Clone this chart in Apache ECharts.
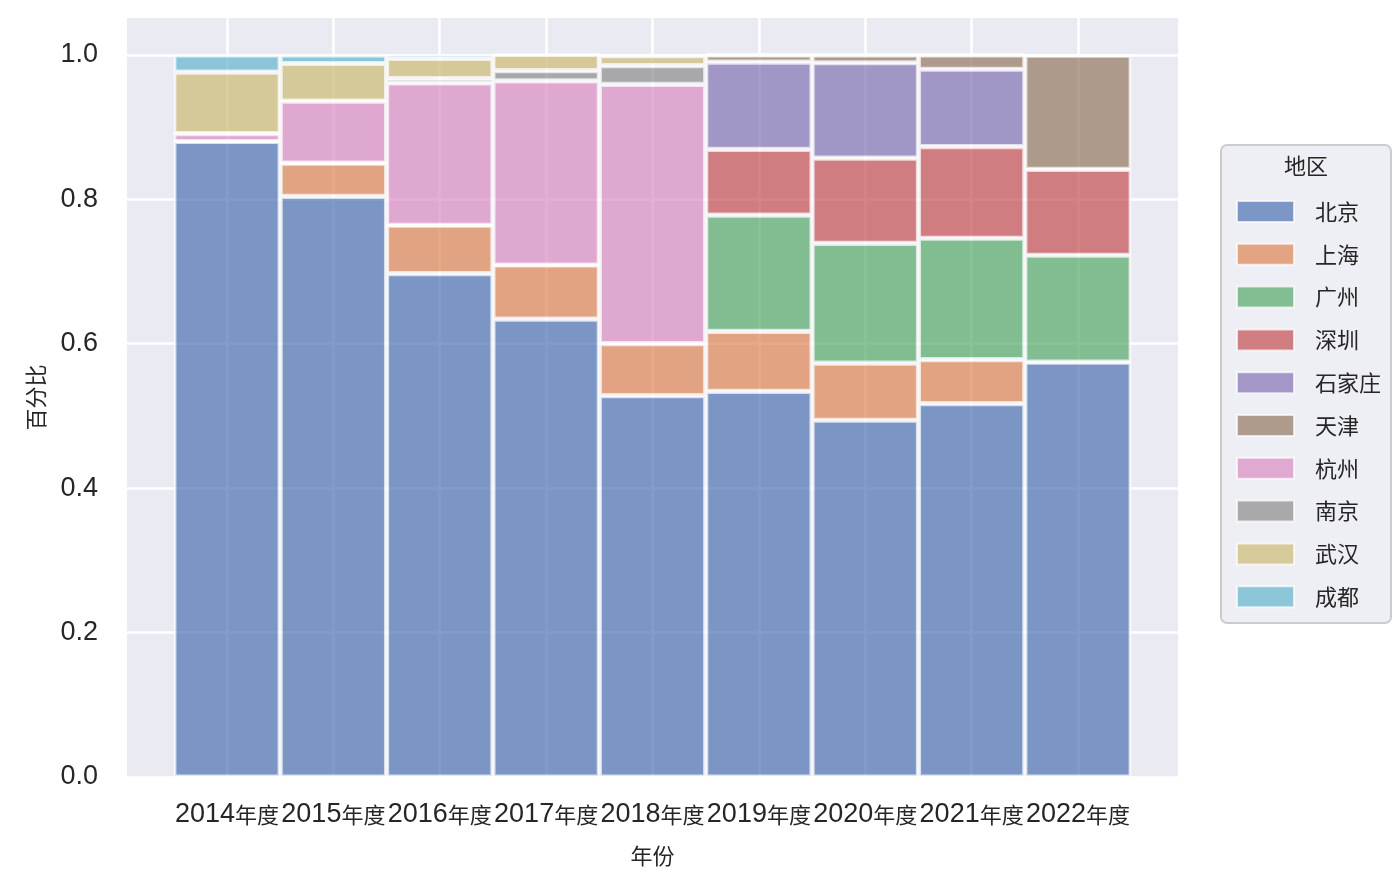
<!DOCTYPE html>
<html>
<head>
<meta charset="utf-8">
<script src="https://cdn.jsdelivr.net/npm/echarts@6/dist/echarts.min.js"></script>
<style>
html,body{margin:0;padding:0;background:#fff;}
#main{width:1394px;height:890px;}
</style>
</head>
<body>
<div id="main"></div>
<script>
// ---- data ----
const years = ['2014年度','2015年度','2016年度','2017年度','2018年度','2019年度','2020年度','2021年度','2022年度'];
const seriesNames = ['北京','上海','广州','深圳','石家庄','天津','杭州','南京','武汉','成都'];
const vBeijing   = [0.880,0.804,0.697,0.634,0.528,0.534,0.494,0.517,0.5745];
const vShanghai  = [0,0.046,0.067,0.075,0.072,0.083,0.079,0.061,0];
const vGuangzhou = [0,0,0,0,0,0.161,0.166,0.168,0.148];
const vShenzhen  = [0,0,0,0,0,0.091,0.118,0.127,0.119];
const vShijiazhuang = [0,0,0,0,0,0.121,0.132,0.107,0];
const vTianjin   = [0,0,0,0,0,0.010,0.011,0.020,0.158];
const vHangzhou  = [0.011,0.086,0.197,0.255,0.359,0,0,0,0];
const vNanjing   = [0,0,0.006,0.014,0.026,0,0,0,0];
const vWuhan     = [0.085,0.052,0.028,0.0225,0.014,0,0,0,0];
const vChengdu   = [0.024,0.012,0.0055,0,0,0,0,0,0];
const yTicks = [0,0.2,0.4,0.6,0.8,1.0];
const xTitle = '年份';
const yTitle = '百分比';
const legendTitle = '地区';

const allValues = [vBeijing,vShanghai,vGuangzhou,vShenzhen,vShijiazhuang,vTianjin,vHangzhou,vNanjing,vWuhan,vChengdu];
const colors = ['#4C72B0','#DD8452','#55A868','#C44E52','#8172B3','#937860','#DA8BC3','#8C8C8C','#CCB974','#64B5CD'];

const chart = echarts.init(document.getElementById('main'));
const idx = years.map((_, i) => i);

const series = seriesNames.map((name, k) => ({
  name: name,
  type: 'bar',
  stack: 'total',
  xAxisIndex: 1,
  yAxisIndex: 1,
  barWidth: '100%',
  data: allValues[k],
  itemStyle: {
    color: colors[k],
    opacity: 0.7,
    borderColor: '#ffffff',
    borderWidth: 2.6
  },
  emphasis: {disabled: true}
}));

const yMax = 1.051;

const option = {
  animation: false,
  backgroundColor: '#ffffff',
  color: colors,
  grid: [
    {left: 127, right: 216, top: 18, bottom: 113, show: true, backgroundColor: '#EAEAF2', borderWidth: 0},
    {left: 173.8, right: 262.8, top: 18, bottom: 113, show: false}
  ],
  xAxis: [{
    gridIndex: 0,
    type: 'value',
    min: -0.94,
    max: 8.94,
    name: xTitle,
    nameLocation: 'middle',
    nameGap: 68,
    nameTextStyle: {fontSize: 22, color: '#262626', fontFamily: 'Noto Sans CJK SC'},
    axisLine: {show: false},
    axisTick: {show: false, customValues: idx},
    axisLabel: {
      customValues: idx,
      margin: 24,
      formatter: function (v) {
        const s = years[Math.round(v)] || '';
        return '{a|' + s.slice(0, 4) + '}{b|' + s.slice(4) + '}';
      },
      rich: {
        a: {fontSize: 27, color: '#262626', fontFamily: 'Liberation Sans'},
        b: {fontSize: 22, color: '#262626', fontFamily: 'Noto Sans CJK SC'}
      }
    },
    splitLine: {show: true, customValues: idx, lineStyle: {color: '#ffffff', width: 2.5}}
  }, {
    gridIndex: 1,
    type: 'category',
    data: years,
    show: false,
    boundaryGap: true
  }],
  yAxis: [{
    gridIndex: 0,
    type: 'value',
    min: 0,
    max: yMax,
    name: yTitle,
    nameLocation: 'middle',
    nameRotate: 90,
    nameGap: 80,
    nameTextStyle: {fontSize: 22, color: '#262626', fontFamily: 'Noto Sans CJK SC'},
    axisLine: {show: false},
    axisTick: {show: false, customValues: yTicks},
    axisLabel: {
      customValues: yTicks,
      fontSize: 27, color: '#262626', fontFamily: 'Liberation Sans', margin: 29,
      formatter: v => v.toFixed(1)
    },
    splitLine: {show: true, customValues: yTicks, lineStyle: {color: '#ffffff', width: 2.5}}
  }, {
    gridIndex: 1,
    type: 'value',
    min: 0,
    max: yMax,
    show: false,
    splitLine: {show: false}
  }],
  graphic: [
    {type: 'rect', left: 1220, top: 144, z: 0,
     shape: {width: 170, height: 478, r: 6},
     style: {fill: '#EEEEF5', stroke: '#CCCCCC', lineWidth: 2}},
    {type: 'text', z: 10, left: 1284, top: 155,
     style: {text: legendTitle, fontSize: 22, fill: '#262626', fontFamily: 'Noto Sans CJK SC'}}
  ],
  legend: {
    orient: 'vertical',
    left: 1231,
    top: 195,
    itemWidth: 57,
    itemHeight: 21,
    itemGap: 19.8,
    icon: 'rect',
    data: seriesNames,
    textStyle: {fontSize: 22, color: '#262626', fontFamily: 'Noto Sans CJK SC', padding: [0, 0, 0, 16]}
  },
  series: series
};
chart.setOption(option);
</script>
</body>
</html>
